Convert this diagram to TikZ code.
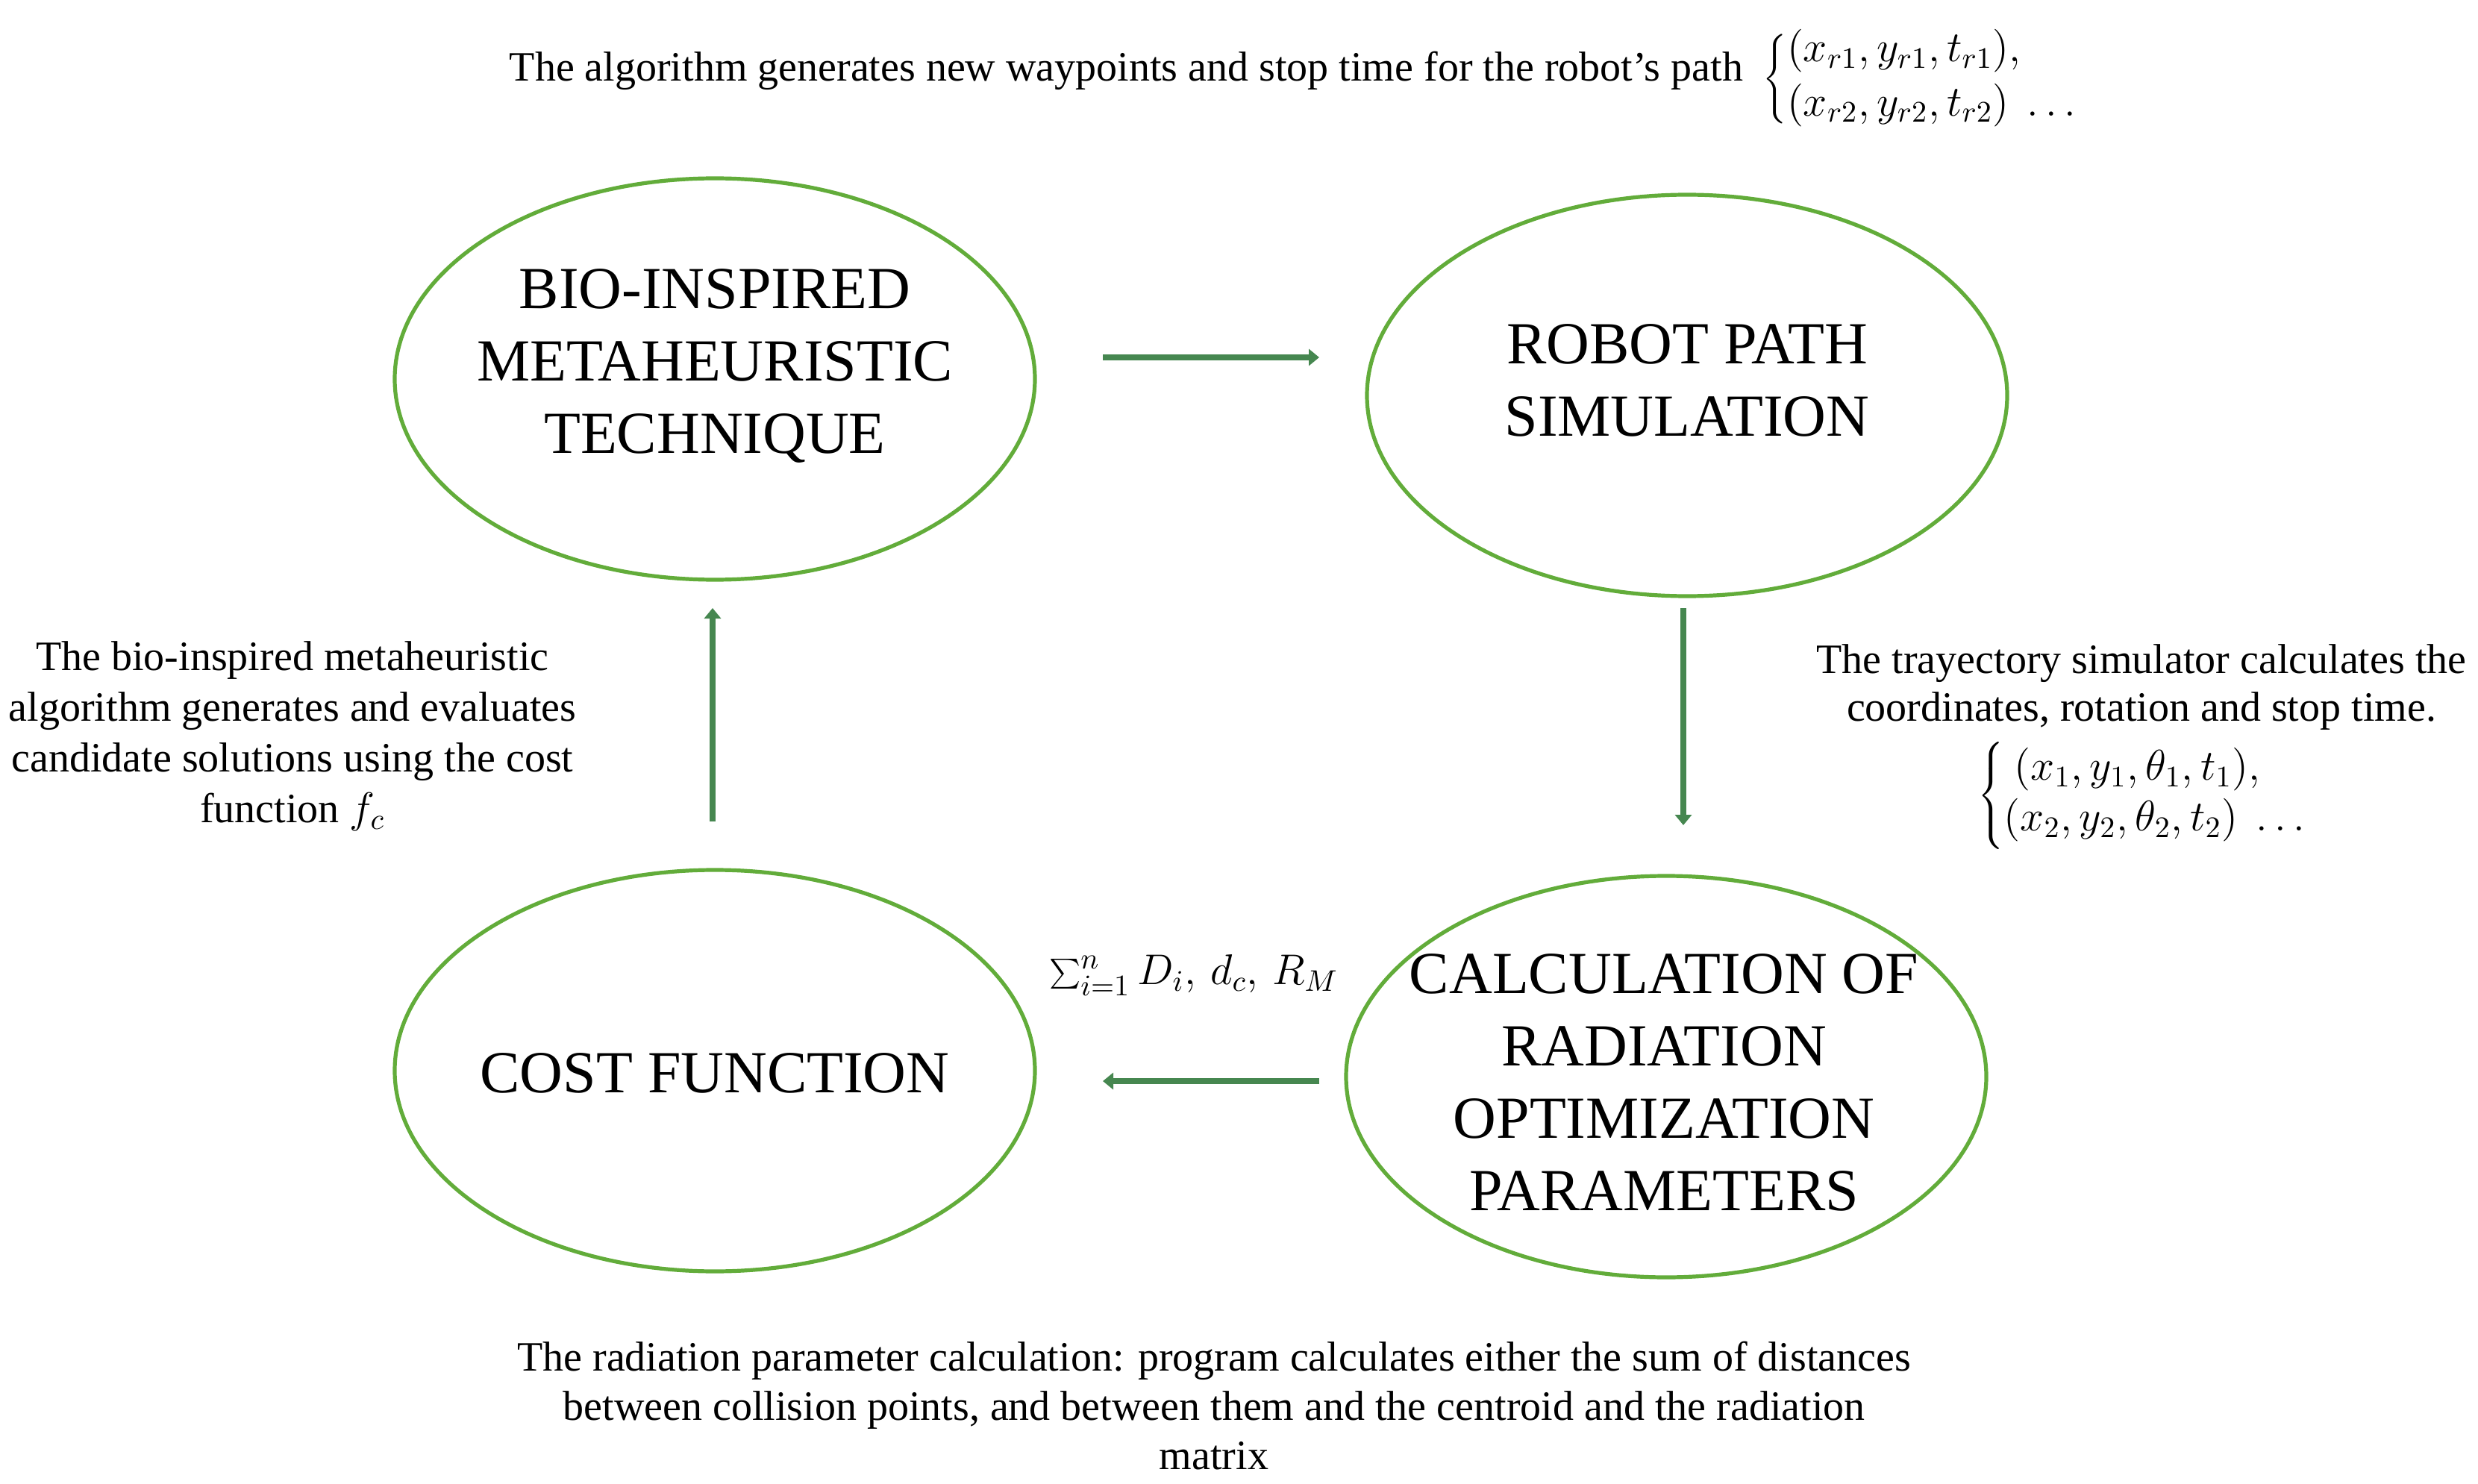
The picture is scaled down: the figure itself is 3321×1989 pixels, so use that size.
\documentclass[tikz,border=0pt]{standalone}
\usepackage{fontspec}
\setmainfont{Liberation Serif}
\usetikzlibrary{arrows.meta,shapes.geometric}
\definecolor{ringgreen}{RGB}{98,172,58}
\definecolor{arrowgreen}{RGB}{70,135,80}
\tikzset{
  stage/.style={draw=ringgreen, line width=1.3pt, ellipse, minimum width=214.5pt, minimum height=134.5pt, inner sep=0pt},
  stagetext/.style={font=\fontsize{20}{24.25}\selectfont, align=center, inner sep=0pt},
  note/.style={font=\fontsize{14}{17}\selectfont, align=center, inner sep=0pt},
  flow/.style={draw=arrowgreen, line width=2.1pt, -{Triangle[width=5.5pt,length=3.5pt]}},
}
\begin{document}
\begin{tikzpicture}[x=0.25pt,y=-0.25pt]
\useasboundingbox (0,0) rectangle (3321,1989);
% stages
\node[stage] (e1) at (958,508) {};
\node[stage] (e2) at (2261,530) {};
\node[stage] (e3) at (958,1435) {};
\node[stage] (e4) at (2233,1443) {};
\node[stagetext] (t1) at (958,491) {BIO-INSPIRED\\METAHEURISTIC\\TECHNIQUE};
\node[stagetext] (t2) at (2261,510) {ROBOT PATH\\SIMULATION};
\node[stagetext] (t3) at (958,1438) {COST FUNCTION};
\node[stagetext] (t4) at (2230,1451) {CALCULATION OF\\RADIATION\\OPTIMIZATION\\PARAMETERS};
% arrows
\coordinate (a1s) at (1478,479); \coordinate (a1e) at (1768,479);
\coordinate (a2s) at (2256,815); \coordinate (a2e) at (2256,1106);
\coordinate (a3s) at (1768,1449); \coordinate (a3e) at (1478,1449);
\coordinate (a4s) at (955,1101); \coordinate (a4e) at (955,815);
\draw[flow] (a1s) -- (a1e);
\draw[flow] (a2s) -- (a2e);
\draw[flow] (a3s) -- (a3e);
\draw[flow] (a4s) -- (a4e);
% annotations
\node[note, anchor=west] (topnote) at (682,95) {The algorithm generates new waypoints and stop time for the robot’s path};
\node[note, anchor=west] (topsys) at (2362,106) {\renewcommand{\arraystretch}{0.85}$\left\{\begin{array}{@{}l@{}}(x_{r1},y_{r1},t_{r1}),\\[3pt](x_{r2},y_{r2},t_{r2})\ \ldots\end{array}\right.$};
\node[note, font=\fontsize{14}{16}\selectfont] (rightnote) at (2870,921) {The trayectory simulator calculates the\\coordinates, rotation and stop time.};
\node[note] (rightsys) at (2872,1066) {$\left\{\begin{array}{@{}l@{}}\ (x_{1},y_{1},\theta_{1},t_{1}),\\(x_{2},y_{2},\theta_{2},t_{2})\ \ldots\end{array}\right.$};
\node[note] (leftnote) at (392,987) {The bio-inspired metaheuristic\\algorithm generates and evaluates\\candidate solutions using the cost\\function $f_c$};
\node[note] (sumlabel) at (1600,1307) {$\sum_{i=1}^{n} D_i,\, d_c,\, R_M$};
\node[note, font=\fontsize{14}{16.5}\selectfont] (bottomnote) at (1627,1884) {The radiation parameter calculation: program calculates either the sum of distances\\between collision points, and between them and the centroid and the radiation\\matrix};
\end{tikzpicture}
\end{document}
